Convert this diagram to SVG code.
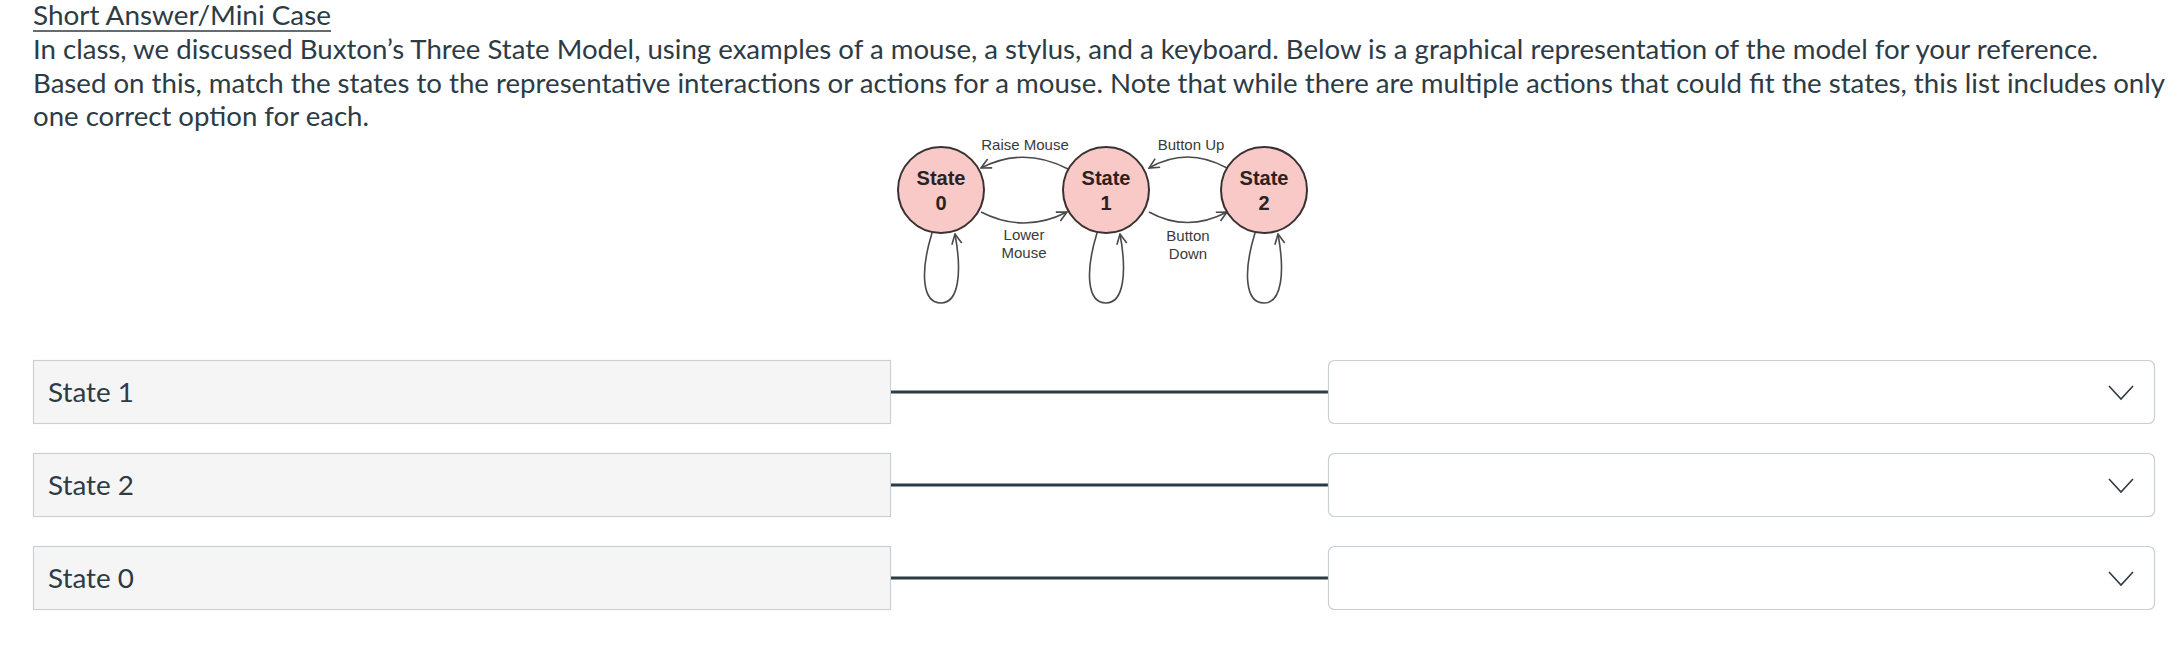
<svg xmlns="http://www.w3.org/2000/svg" width="2183" height="653" viewBox="0 0 2183 653">
<defs>
<style>
.hdr{font-family:Lato,"Liberation Sans",sans-serif;font-size:27.5px;fill:#2d3b45}
.st{fill:#f8c9c6;stroke:#3a3232;stroke-width:2}
.stl{font-family:"Liberation Sans",Arial,sans-serif;font-size:20px;font-weight:bold;fill:#2a2222;text-anchor:middle}
.el{font-family:"Liberation Sans",Arial,sans-serif;font-size:15px;fill:#3a3a3a;text-anchor:middle}
.edge{fill:none;stroke:#4a4a4a;stroke-width:1.6}
.lbox{fill:#f5f5f5;stroke:#c9cfd3;stroke-width:1.2}
.rbox{fill:#ffffff;stroke:#c9cfd3;stroke-width:1.2}
.link{stroke:#2d3b45;stroke-width:3}
.chev{fill:none;stroke:#2d3b45;stroke-width:1.6}
</style>
<marker id="arr" viewBox="0 0 12 12" refX="11" refY="6" markerWidth="12" markerHeight="12" markerUnits="userSpaceOnUse" orient="auto">
<path d="M1,1 L11,6 L1,11" fill="none" stroke="#4a4a4a" stroke-width="1.6"/>
</marker>
</defs>
<rect width="2183" height="653" fill="#ffffff"/>

<g id="header">
<text class="hdr" x="33" y="25" textLength="298" lengthAdjust="spacingAndGlyphs">Short Answer/Mini Case</text>
<line x1="33" y1="31" x2="331" y2="31" stroke="#2d3b45" stroke-width="1.5"/>
<text class="hdr" x="33" y="59" textLength="2065" lengthAdjust="spacingAndGlyphs">In class, we discussed Buxton’s Three State Model, using examples of a mouse, a stylus, and a keyboard. Below is a graphical representation of the model for your reference.</text>
<text class="hdr" x="33" y="93" textLength="2132" lengthAdjust="spacingAndGlyphs">Based on this, match the states to the representative interactions or actions for a mouse. Note that while there are multiple actions that could fit the states, this list includes only</text>
<text class="hdr" x="33" y="126" textLength="336" lengthAdjust="spacingAndGlyphs">one correct option for each.</text>
</g>

<g id="connectors">
<path class="edge" d="M1068 169 Q1024 146 981 168" marker-end="url(#arr)"/>
<path class="edge" d="M981 212 Q1024 234 1067 212" marker-end="url(#arr)"/>
<path class="edge" d="M1227 168 Q1187 146 1149 168" marker-end="url(#arr)"/>
<path class="edge" d="M1149 212 Q1187 233 1227 212" marker-end="url(#arr)"/>
<path class="edge" d="M932 233 C920 272 922 303 941 303 C959 303 962 272 955 234" marker-end="url(#arr)"/>
<path class="edge" d="M1097 233 C1085 272 1087 303 1106 303 C1124 303 1127 272 1120 234" marker-end="url(#arr)"/>
<path class="edge" d="M1255 233 C1243 272 1245 303 1264 303 C1282 303 1285 272 1278 234" marker-end="url(#arr)"/>
<text class="el" x="1025" y="150">Raise Mouse</text>
<text class="el" x="1024" y="240">Lower</text>
<text class="el" x="1024" y="258">Mouse</text>
<text class="el" x="1191" y="150">Button Up</text>
<text class="el" x="1188" y="241">Button</text>
<text class="el" x="1188" y="259">Down</text>
</g>

<g id="state0">
<circle class="st" cx="941" cy="190" r="43"/>
<text class="stl" x="941" y="185">State</text>
<text class="stl" x="941" y="210">0</text>
</g>
<g id="state1">
<circle class="st" cx="1106" cy="190" r="43"/>
<text class="stl" x="1106" y="185">State</text>
<text class="stl" x="1106" y="210">1</text>
</g>
<g id="state2">
<circle class="st" cx="1264" cy="190" r="43"/>
<text class="stl" x="1264" y="185">State</text>
<text class="stl" x="1264" y="210">2</text>
</g>

<g id="row1">
<rect class="lbox" x="33.5" y="360.5" width="857" height="63"/>
<text class="hdr" x="48" y="402" textLength="86" lengthAdjust="spacingAndGlyphs">State 1</text>
<line class="link" x1="891" y1="392" x2="1328" y2="392"/>
<rect class="rbox" x="1328.5" y="360.5" width="826" height="63" rx="6"/>
<polyline class="chev" points="2109,386 2121,399 2133,386"/>
</g>
<g id="row2">
<rect class="lbox" x="33.5" y="453.5" width="857" height="63"/>
<text class="hdr" x="48" y="495" textLength="86" lengthAdjust="spacingAndGlyphs">State 2</text>
<line class="link" x1="891" y1="485" x2="1328" y2="485"/>
<rect class="rbox" x="1328.5" y="453.5" width="826" height="63" rx="6"/>
<polyline class="chev" points="2109,479 2121,492 2133,479"/>
</g>
<g id="row3">
<rect class="lbox" x="33.5" y="546.5" width="857" height="63"/>
<text class="hdr" x="48" y="588" textLength="86" lengthAdjust="spacingAndGlyphs">State 0</text>
<line class="link" x1="891" y1="578" x2="1328" y2="578"/>
<rect class="rbox" x="1328.5" y="546.5" width="826" height="63" rx="6"/>
<polyline class="chev" points="2109,572 2121,585 2133,572"/>
</g>
</svg>
